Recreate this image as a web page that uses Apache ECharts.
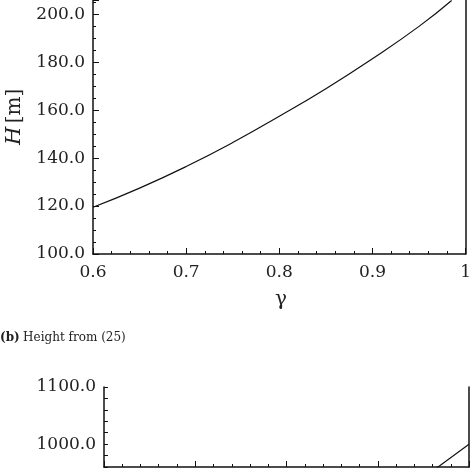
<!DOCTYPE html>
<html>
<head>
<meta charset="utf-8" />
<script src="https://cdn.jsdelivr.net/npm/echarts@6/dist/echarts.min.js"></script>
<style>html,body{margin:0;background:#fff}#c{width:474px;height:474px}</style>
</head>
<body>
<div id="c"></div>
<script>
// top panel: H [m] vs gamma
var gammaTop = [0.6, 0.65, 0.7, 0.75, 0.8, 0.85, 0.9, 0.95, 0.985];
var heightTop = [119.5, 127.5, 136.5, 146.5, 157.5, 169, 181.5, 195, 205.8];
// bottom panel (only its top corner is visible)
var gammaBottom = [0.955, 1.0];
var heightBottom = [947, 1000];

var font = 'DejaVu Serif';
var chart = echarts.init(document.getElementById('c'));

function xAxis(grid, labels) {
  return {
    type: 'value', gridIndex: grid, min: 0.6, max: 1, interval: 0.1,
    axisLine: { show: true, onZero: false, lineStyle: { color: '#111', width: 1.5 } },
    axisTick: { show: true, inside: true, length: 6, lineStyle: { color: '#111' } },
    minorTick: { show: true, splitNumber: 5, length: 3, lineStyle: { color: '#111' } },
    splitLine: { show: false },
    axisLabel: { show: labels, color: '#222', fontFamily: font, fontSize: 17, margin: 10,
      formatter: function (v) { return v === 1 ? '1' : v.toFixed(1); } }
  };
}
function yAxis(grid, min, max, step, split, tick, right, every) {
  return {
    type: 'value', gridIndex: grid, min: min, max: max, interval: step,
    position: right ? 'right' : 'left',
    axisLine: { show: true, lineStyle: { color: '#111', width: 1.5 } },
    axisTick: { show: !right, inside: true, length: tick, lineStyle: { color: '#111' } },
    minorTick: { show: !right && split > 1, splitNumber: split, length: 3, lineStyle: { color: '#111' } },
    splitLine: { show: false },
    axisLabel: { show: !right, color: '#222', fontFamily: font, fontSize: 17, margin: 8,
      formatter: function (v) { return v % every === 0 ? v.toFixed(1) : ''; } }
  };
}

chart.setOption({
  animation: false,
  grid: [
    { left: 93, top: 0, width: 376, height: 254 },
    { left: 104, top: 387, width: 365, height: 80 }
  ],
  xAxis: [xAxis(0, true), xAxis(1, false)],
  yAxis: [
    yAxis(0, 100, 206, 20, 4, 6, false, 20),
    yAxis(1, 960, 1100, 20, 1, 4, false, 100),
    yAxis(0, 100, 206, 20, 4, 6, true, 20),
    yAxis(1, 960, 1100, 20, 1, 4, true, 100)
  ],
  graphic: [
    { type: 'text', x: 4, y: 145, rotation: Math.PI / 2, style: {
      rich: { i: { fontStyle: 'italic', fontFamily: font, fontSize: 21, fill: '#222' },
              n: { fontFamily: font, fontSize: 20, fill: '#222' } },
      text: '{i|H} {n|[m]}' } },
    { type: 'text', x: 275, y: 290, style: { text: 'γ', fontFamily: font, fontSize: 20, fill: '#222' } },
    { type: 'text', x: 0, y: 332, style: {
      rich: { b: { fontWeight: 'bold', fontFamily: font, fontSize: 12, fill: '#222' },
              n: { fontFamily: font, fontSize: 12, fill: '#222' } },
      text: '{b|(b)} {n|Height from (25)}' } }
  ],
  series: [
    { type: 'line', xAxisIndex: 0, yAxisIndex: 0, smooth: true, showSymbol: false,
      lineStyle: { color: '#111', width: 1.2 },
      data: gammaTop.map(function (g, i) { return [g, heightTop[i]]; }) },
    { type: 'line', xAxisIndex: 1, yAxisIndex: 1, showSymbol: false,
      lineStyle: { color: '#111', width: 1.2 },
      data: gammaBottom.map(function (g, i) { return [g, heightBottom[i]]; }) }
  ]
});
</script>
</body>
</html>
